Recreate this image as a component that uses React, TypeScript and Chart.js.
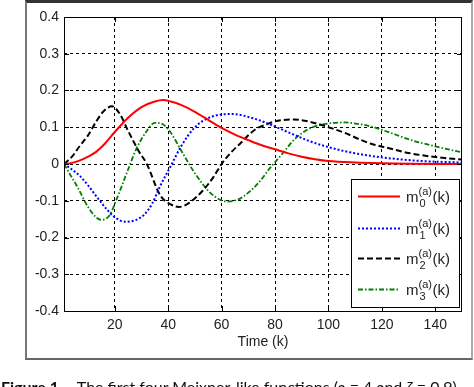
import React, { useEffect, useRef } from "react";
import { Chart, registerables } from "chart.js";

Chart.register(...registerables);

// ---- data ----
const m0K = [1, 4, 7, 10, 13, 16, 20, 25, 30, 35, 38, 41, 45, 50, 55, 60, 65, 70, 75, 80, 85, 90, 95, 100, 110, 120, 130, 150];
const m0V = [0, 0.003, 0.01, 0.02, 0.033, 0.053, 0.087, 0.126, 0.155, 0.17, 0.174, 0.17, 0.16, 0.142, 0.12, 0.098, 0.08, 0.065, 0.051, 0.04, 0.029, 0.02, 0.013, 0.008, 0.004, 0.002, 0.001, 0];

const m1K = [1, 4, 7, 10, 13, 17, 20, 24, 28, 31, 34, 37, 41, 45, 50, 56, 64, 72, 78, 87, 93, 100, 108, 116, 125, 135, 150];
const m1V = [0, -0.015, -0.033, -0.058, -0.087, -0.123, -0.145, -0.157, -0.152, -0.138, -0.108, -0.06, -0.005, 0.05, 0.1, 0.128, 0.136, 0.124, 0.108, 0.08, 0.062, 0.046, 0.032, 0.022, 0.014, 0.008, 0.004];

const m2K = [1, 4, 7, 10, 13, 16, 19, 22, 25, 29, 32, 37, 41, 44, 48, 53, 57, 60, 64, 67, 70, 73, 77, 80, 87, 93, 100, 106, 112, 116, 122, 130, 140, 150];
const m2V = [0, 0.02, 0.05, 0.078, 0.115, 0.145, 0.157, 0.135, 0.09, 0.035, 0, -0.085, -0.11, -0.117, -0.105, -0.072, -0.035, 0, 0.035, 0.056, 0.078, 0.096, 0.108, 0.116, 0.121, 0.115, 0.1, 0.085, 0.066, 0.055, 0.044, 0.03, 0.019, 0.012];

const m3K = [1, 3, 6, 10, 13, 15, 18, 21, 25, 28, 32, 35, 38, 41, 45, 50, 56, 62, 66, 70, 74, 78, 83, 87, 93, 100, 106, 112, 116, 122, 131, 140, 150];
const m3V = [0, -0.025, -0.062, -0.117, -0.145, -0.152, -0.14, -0.09, -0.015, 0.04, 0.09, 0.112, 0.108, 0.085, 0.035, -0.025, -0.08, -0.102, -0.097, -0.078, -0.05, -0.012, 0.03, 0.065, 0.097, 0.11, 0.113, 0.108, 0.102, 0.088, 0.065, 0.048, 0.032];

const xTicks = [20, 40, 60, 80, 100, 120, 140];
const yTicks = [-0.4, -0.3, -0.2, -0.1, 0, 0.1, 0.2, 0.3, 0.4];
const seriesSubscripts = ["0", "1", "2", "3"];
const seriesColors = ["#ff0000", "#0000ff", "#000000", "#007f00"];
const seriesDashes: number[][] = [[], [2, 2], [6, 3], [5, 2, 1.5, 2]];
const seriesWidths = [2, 2, 2, 1.8];
const xTitle = "Time (k)";
const captionBold = "Figure 1.";
const captionText = "The first four Meixner-like functions (a = 4 and ζ = 0.9)";

const FONT = '"Liberation Sans", Arial, sans-serif';

const toPoints = (ks: number[], vs: number[]) => ks.map((k, i) => ({ x: k, y: vs[i] }));

const boxPlugin = {
  id: "matlabBox",
  afterDraw(chart: any) {
    const { ctx, chartArea: a, scales } = chart;
    ctx.save();
    ctx.strokeStyle = "#000";
    ctx.lineWidth = 1;
    ctx.setLineDash([]);
    // inward ticks
    const tl = 5;
    ctx.beginPath();
    xTicks.forEach((v) => {
      const px = Math.round(scales.x.getPixelForValue(v)) + 0.5;
      ctx.moveTo(px, a.bottom);
      ctx.lineTo(px, a.bottom - tl);
      ctx.moveTo(px, a.top);
      ctx.lineTo(px, a.top + tl);
    });
    yTicks.forEach((v) => {
      const py = Math.round(scales.y.getPixelForValue(v)) + 0.5;
      ctx.moveTo(a.left, py);
      ctx.lineTo(a.left + tl, py);
      ctx.moveTo(a.right, py);
      ctx.lineTo(a.right - tl, py);
    });
    ctx.stroke();
    ctx.strokeRect(a.left + 0.5, a.top + 0.5, a.right - a.left - 1, a.bottom - a.top);

    // legend
    const lx = 351, ly = 179, lw = 108, lh = 128;
    ctx.fillStyle = "#fff";
    ctx.fillRect(lx, ly, lw, lh);
    ctx.strokeRect(lx + 0.5, ly + 0.5, lw, lh);
    const rowY = [196, 228, 258, 289];
    seriesSubscripts.forEach((sub, i) => {
      const y = rowY[i] + 0.5;
      ctx.strokeStyle = seriesColors[i];
      ctx.lineWidth = seriesWidths[i];
      ctx.setLineDash(seriesDashes[i]);
      ctx.beginPath();
      ctx.moveTo(358, y);
      ctx.lineTo(400, y);
      ctx.stroke();
      ctx.setLineDash([]);
      ctx.fillStyle = "#222";
      ctx.textBaseline = "alphabetic";
      ctx.textAlign = "left";
      const base = rowY[i] + 6;
      ctx.font = `15px ${FONT}`;
      ctx.fillText("m", 406, base);
      const mW = ctx.measureText("m").width;
      ctx.font = `11px ${FONT}`;
      ctx.fillText("(a)", 406 + mW, base - 7);
      const supW = ctx.measureText("(a)").width;
      ctx.fillText(sub, 406 + mW + 1, base + 5);
      ctx.font = `15px ${FONT}`;
      ctx.fillText("(k)", 406 + mW + supW + 0.5, base);
    });
    ctx.restore();
  },
};

export default function App() {
  const ref = useRef<HTMLCanvasElement | null>(null);

  useEffect(() => {
    if (!ref.current) return;
    Chart.defaults.font.family = FONT;
    const datasets = [
      toPoints(m0K, m0V),
      toPoints(m1K, m1V),
      toPoints(m2K, m2V),
      toPoints(m3K, m3V),
    ].map((data, i) => ({
      label: "m" + seriesSubscripts[i],
      data,
      borderColor: seriesColors[i],
      backgroundColor: seriesColors[i],
      borderWidth: seriesWidths[i],
      borderDash: seriesDashes[i],
      pointRadius: 0,
      cubicInterpolationMode: "monotone" as const,
      fill: false,
    }));

    const chart = new Chart(ref.current, {
      type: "line",
      data: { datasets },
      plugins: [boxPlugin],
      options: {
        animation: false,
        responsive: false,
        devicePixelRatio: 1,
        layout: { padding: { top: 17, right: 12, left: 0, bottom: 0 } },
        plugins: { legend: { display: false }, tooltip: { enabled: false } },
        scales: {
          x: {
            type: "linear",
            min: 1,
            max: 150,
            afterBuildTicks: (s: any) => {
              s.ticks = xTicks.map((v) => ({ value: v }));
            },
            afterFit: (s: any) => {
              s.height = 76;
            },
            grid: { color: "#000", lineWidth: 1, drawTicks: false },
            border: { display: false, dash: [3, 3] },
            ticks: { color: "#222", font: { size: 14 }, padding: 6, maxRotation: 0, autoSkip: false },
            title: { display: true, text: xTitle, color: "#222", font: { size: 14 }, padding: { top: 0, bottom: 36 } },
          },
          y: {
            type: "linear",
            min: -0.4,
            max: 0.4,
            afterBuildTicks: (s: any) => {
              s.ticks = yTicks.map((v) => ({ value: v }));
            },
            afterFit: (s: any) => {
              s.width = 64;
            },
            grid: { color: "#000", lineWidth: 1, drawTicks: false },
            border: { display: false, dash: [3, 3] },
            ticks: {
              color: "#222",
              font: { size: 14 },
              padding: 5,
              callback: (v: any) => (Math.abs(v) < 1e-9 ? "0" : Number(v).toFixed(1)),
            },
          },
        },
      },
    } as any);
    return () => chart.destroy();
  }, []);

  return (
    <div style={{ position: "fixed", left: 0, top: 0, width: 474, height: 387, background: "#fff", overflow: "hidden" }}>
      <div
        style={{
          position: "absolute",
          left: 25,
          top: 0,
          width: 444,
          height: 355,
          borderLeft: "2px solid #777",
          borderBottom: "2px solid #666",
          borderRight: "2px solid #aaa",
          borderTop: "3px solid #333",
          background: "#fff",
        }}
      />
      <canvas ref={ref} width={474} height={387} style={{ position: "absolute", left: 0, top: 0, width: 474, height: 387 }} />
      <div
        style={{
          position: "absolute",
          left: 1,
          top: 379,
          fontFamily: "Lato, 'Open Sans', sans-serif",
          fontSize: 16,
          lineHeight: "16px",
          whiteSpace: "nowrap",
          color: "#111",
        }}
      >
        <b>{captionBold}</b>
        <span style={{ marginLeft: 14 }}>{captionText}</span>
      </div>
    </div>
  );
}
